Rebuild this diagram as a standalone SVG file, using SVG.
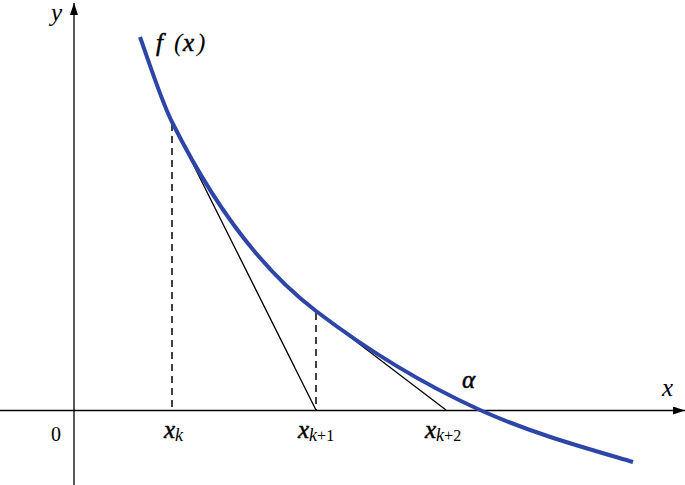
<svg xmlns="http://www.w3.org/2000/svg" width="685" height="485" viewBox="0 0 685 485">
<style>
.ax{stroke:#000;stroke-width:1.3;fill:none}
.tg{stroke:#000;stroke-width:1.3;fill:none}
.ds{stroke:#000;stroke-width:1.5;fill:none;stroke-dasharray:7 5}
.cv{stroke:#2e45a8;stroke-width:4;fill:none;stroke-linecap:butt}
text{font-family:'Liberation Serif','Times New Roman',serif;fill:#000}
.v{font-style:italic;font-size:25px}
.h{stroke:#000;stroke-width:0.5}
.s{font-style:italic;font-size:18px}
.n{font-size:16px;font-style:normal}
</style>
<defs>
<marker id="ar" markerWidth="12" markerHeight="8" refX="12" refY="4" orient="auto" markerUnits="userSpaceOnUse">
<path d="M0,0 L12,4 L0,8 Z" fill="#000"/>
</marker>
</defs>
<g id="connectors">
<line id="xaxis" class="ax" x1="0" y1="410.5" x2="685" y2="410.5" marker-end="url(#ar)"/>
<line id="yaxis" class="ax" x1="74" y1="485" x2="74" y2="3" marker-end="url(#ar)"/>
<line id="tangent-k" class="tg" x1="172" y1="122" x2="316" y2="410"/>
<line id="tangent-k1" class="tg" x1="316" y1="311" x2="446" y2="410"/>
<line id="dash-k" class="ds" x1="172" y1="124" x2="172" y2="410"/>
<line id="dash-k1" class="ds" x1="316" y1="313" x2="316" y2="410"/>
</g>
<g id="curve">
<path class="cv" d="M140,37 C150.7,67 161.3,100.7 172,122 C220,218 268,274.5 316,311 C371,353 425,385 480,410 C531,433 582,447 633,462"/>
</g>
<g id="labels">
<text class="v" x="51" y="21">y</text>
<text class="v" y="51"><tspan class="h" x="156">f</tspan><tspan x="174">(</tspan><tspan class="h" x="183">x</tspan><tspan x="197">)</tspan></text>
<text class="v h" x="462" y="388">α</text>
<text class="v" x="662" y="396">x</text>
<text x="51" y="441" style="font-size:20px">0</text>
<text x="164" y="438"><tspan class="v h">x</tspan><tspan class="s" dy="3">k</tspan></text>
<text x="298" y="438"><tspan class="v h">x</tspan><tspan class="s" dy="3">k</tspan><tspan class="n">+1</tspan></text>
<text x="425" y="438"><tspan class="v h">x</tspan><tspan class="s" dy="3">k</tspan><tspan class="n">+2</tspan></text>
</g>
</svg>
